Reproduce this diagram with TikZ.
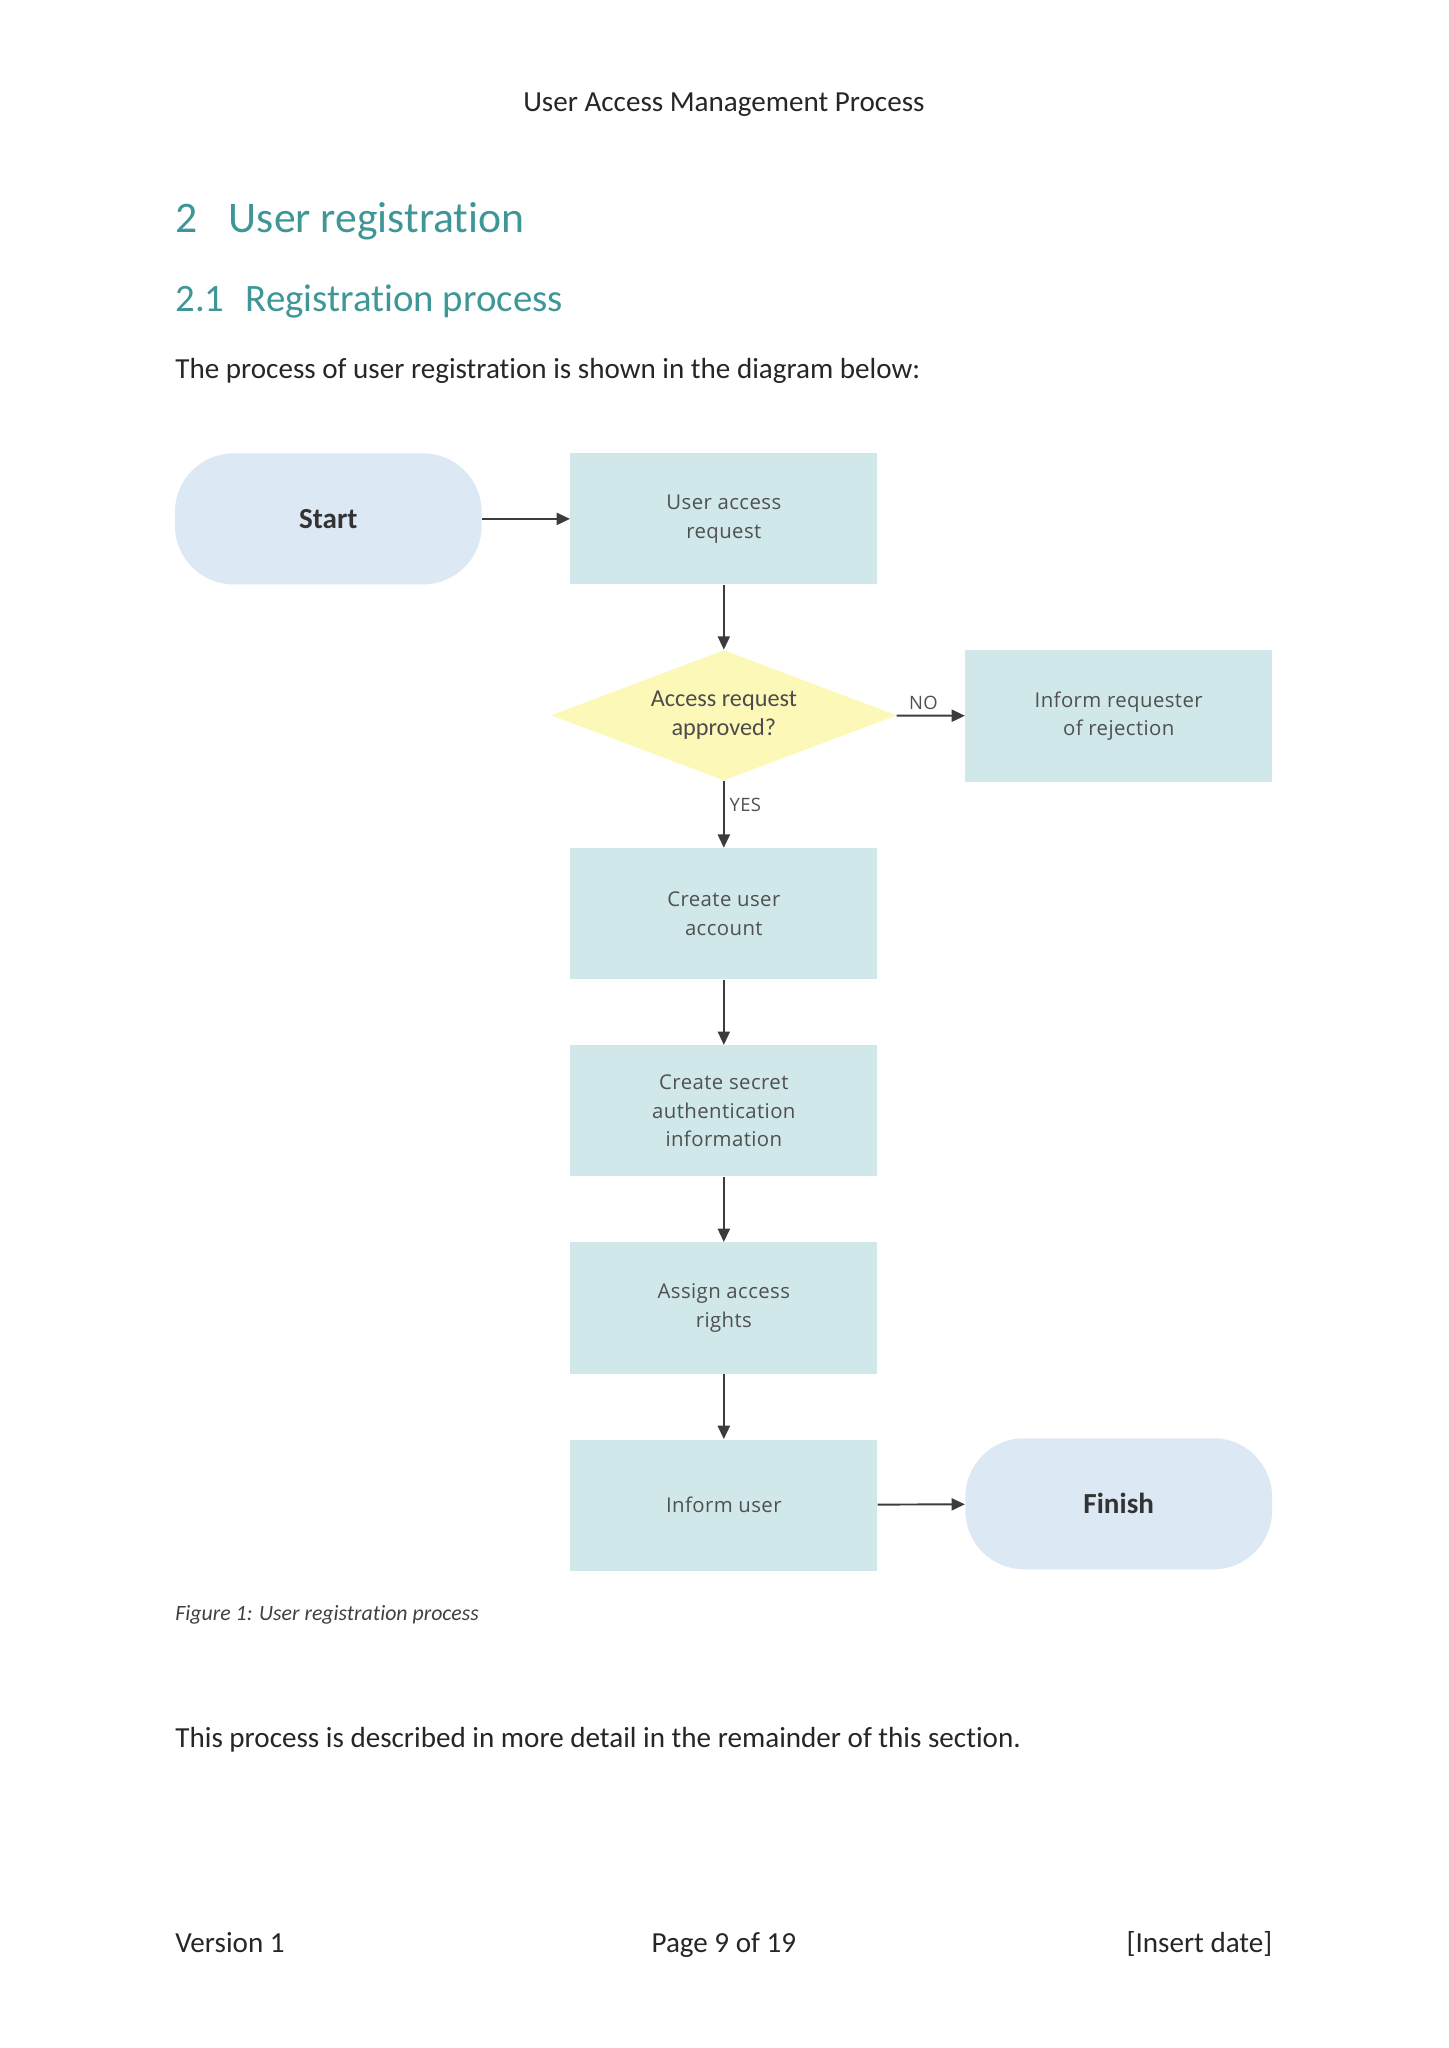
\documentclass[tikz,border=0pt]{standalone}
\usepackage{fontspec}
\setmainfont{Carlito}[Ligatures=NoCommon,Numbers=Lining]
\newfontfamily\boxfont{Open Sans}[LetterSpace=2]
\usetikzlibrary{shapes.geometric,arrows.meta}
\definecolor{headteal}{RGB}{62,150,151}
\definecolor{boxteal}{RGB}{208,232,233}
\definecolor{termblue}{RGB}{221,232,245}
\definecolor{askyellow}{RGB}{252,248,184}
\definecolor{linegray}{RGB}{60,60,60}
\definecolor{textgray}{RGB}{80,80,80}
\begin{document}
\begin{tikzpicture}[x=0.018919cm,y=-0.018919cm,
    stepbox/.style={rectangle,draw=none,fill=boxteal,minimum width=4.446cm,minimum height=1.9cm,
      align=center,text=textgray,font=\boxfont\fontsize{8.4}{11.8}\selectfont},
    term/.style={rectangle,rounded corners=0.85cm,draw=none,fill=termblue,minimum width=4.446cm,
      minimum height=1.9cm,text=black!80,font=\fontsize{12}{14}\selectfont\bfseries},
    ask/.style={diamond,aspect=2.65,inner sep=0pt,draw=none,fill=askyellow,minimum width=5.013cm,
      minimum height=1.892cm,align=center,text=black!70,font=\fontsize{10}{11.8}\selectfont},
    flow/.style={draw=linegray,line width=0.8pt,-{Triangle[length=5.5pt,width=5pt]}},
    edgelabel/.style={text=textgray,font=\boxfont\fontsize{7.6}{8}\selectfont,inner sep=2pt},
    heading/.style={anchor=base west,inner sep=0pt,text=headteal},
    bodytext/.style={anchor=west,inner sep=0pt,text=black!85,font=\fontsize{12}{14}\selectfont}]
  \useasboundingbox (0,0) rectangle (1110,1568.9);
  % page text
  \node (header) at (554.5,80) [inner sep=0pt,text=black!85,font=\fontsize{12}{14}\selectfont] {User Access Management Process};
  \node (hnum) at (134,178) [heading,font=\fontsize{18}{21}\selectfont] {2};
  \node (htitle) at (175,178) [heading,font=\fontsize{18}{21}\selectfont] {User registration};
  \node (subnum) at (134,239) [heading,font=\fontsize{16}{19}\selectfont] {2.1};
  \node (subtitle) at (188,239) [heading,font=\fontsize{16}{19}\selectfont] {Registration process};
  \node (intro) at (134,284) [bodytext] {The process of user registration is shown in the diagram below:};
  % flow chart
  \node (start)   at (251.5,397.5) [term] {Start};
  \node (request) at (554.5,397.5) [stepbox] {User access\\request};
  \node (approve) at (554.5,548)   [ask] {Access request\\approved?};
  \node (reject)  at (857,548.5)   [stepbox] {Inform requester\\of rejection};
  \node (account) at (554.5,700)   [stepbox] {Create user\\account};
  \node (secret)  at (554.5,851)   [stepbox] {Create secret\\authentication\\information};
  \node (assign)  at (554.5,1002)  [stepbox] {Assign access\\rights};
  \node (inform)  at (554.5,1153)  [stepbox] {Inform user};
  \node (finish)  at (857,1152)    [term] {Finish};
  \draw [flow] (start)   -- (request);
  \draw [flow] (request) -- (approve);
  \draw [flow] (approve) -- (reject) node [edgelabel,above,midway,xshift=-3pt] {NO};
  \draw [flow] (approve) -- (account) node [edgelabel,right,midway,yshift=4pt] {YES};
  \draw [flow] (account) -- (secret);
  \draw [flow] (secret)  -- (assign);
  \draw [flow] (assign)  -- (inform);
  \draw [flow] (inform)  -- (finish);
  % caption, closing text and footer
  \node (caption) at (134,1237) [anchor=west,inner sep=0pt,text=black!75,font=\fontsize{9}{11}\selectfont\itshape] {Figure 1: User registration process};
  \node (outro) at (134,1333) [bodytext] {This process is described in more detail in the remainder of this section.};
  \node (version) at (134,1496) [anchor=base west,inner sep=0pt,text=black!85,font=\fontsize{12}{14}\selectfont] {Version 1};
  \node (pageno) at (554.5,1496) [anchor=base,inner sep=0pt,text=black!85,font=\fontsize{12}{14}\selectfont] {Page 9 of 19};
  \node (date) at (975,1496) [anchor=base east,inner sep=0pt,text=black!85,font=\fontsize{12}{14}\selectfont] {[Insert date]};
\end{tikzpicture}
\end{document}
